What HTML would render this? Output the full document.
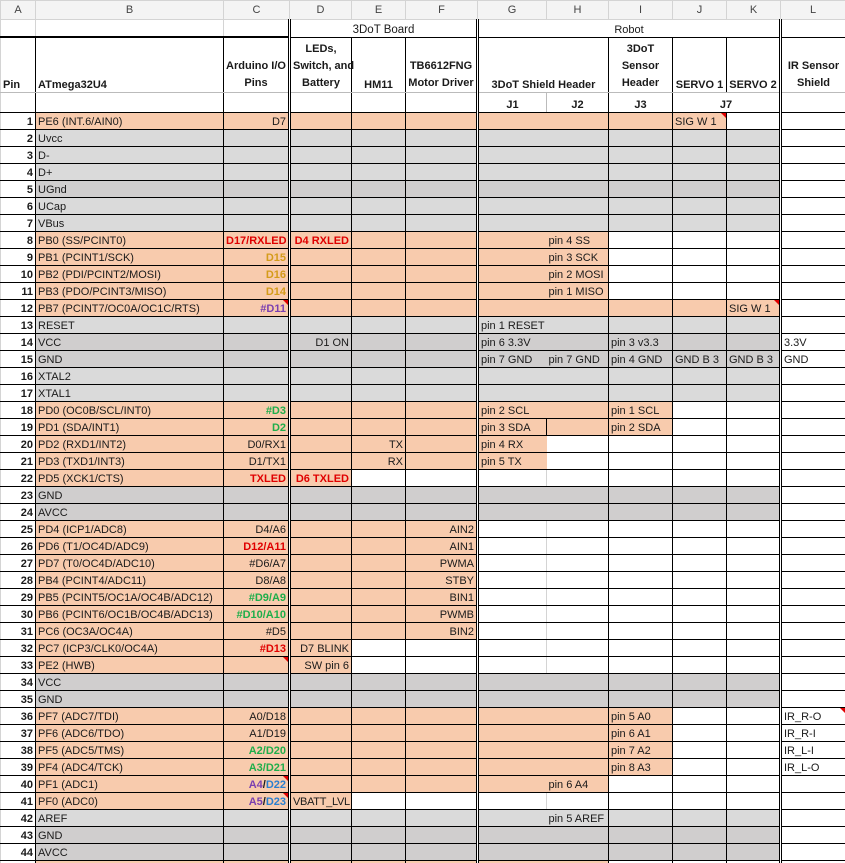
<!DOCTYPE html>
<html><head><meta charset="utf-8">
<style>
html,body{margin:0;padding:0;background:#fff;width:845px;height:863px;overflow:hidden}
table{border-collapse:collapse;table-layout:fixed;width:845px;font-family:"Liberation Sans",Arial,sans-serif;font-size:11px;color:#1a1a1a}
td{border:1px solid #000;padding:0 2px;height:16px;white-space:nowrap;overflow:visible;vertical-align:bottom;line-height:14px;position:relative}
tr.hd td{background:#f4f4f4;border:1px solid #d4d4d4;text-align:center;color:#444;height:18px;vertical-align:middle;font-size:11px}
td.a{text-align:right;font-weight:bold;border-left:1px solid #d4d4d4}
.o{background:#f8cbad}.g{background:#dadada}.G{background:#d0cece}
.r{text-align:right}.b{font-weight:bold}.c{text-align:center}
.red{color:#e00000;font-weight:bold}.gold{color:#d49b1a;font-weight:bold}.pur{color:#7a3fb0;font-weight:bold}.grn{color:#1fae4b;font-weight:bold}.blu{color:#2a7fd0;font-weight:bold}
.dr{border-right:3px double #000}
.x{border-right-style:hidden}
.y{border-right-color:#d4d4d4}
.t::after{content:"";position:absolute;right:0;top:0;border-top:5px solid #e00000;border-left:5px solid transparent}
</style></head><body>
<table>
<colgroup><col style="width:35px"><col style="width:188px"><col style="width:66px"><col style="width:62px"><col style="width:54px"><col style="width:72px"><col style="width:69px"><col style="width:62px"><col style="width:64px"><col style="width:54px"><col style="width:54px"><col style="width:65px"></colgroup>
<tr class="hd"><td>A</td><td>B</td><td>C</td><td>D</td><td>E</td><td>F</td><td>G</td><td>H</td><td>I</td><td>J</td><td>K</td><td>L</td></tr>
<tr><td style="border:1px solid #d4d4d4;border-bottom:2px solid #000;height:16px"></td><td style="border:1px solid #d4d4d4;border-bottom:2px solid #000"></td><td class="dr" style="border-top:1px solid #d4d4d4;border-left:1px solid #d4d4d4;border-bottom:2px solid #000"></td><td colspan="3" class="dr c" style="font-size:11.5px">3DoT Board</td><td colspan="5" class="dr c">Robot</td><td></td></tr>
<tr class="b" style="height:55px"><td style="height:53px;border-left:1px solid #d4d4d4;border-bottom-color:#bbb">Pin</td><td style="border-bottom-color:#bbb">ATmega32U4</td><td class="dr c" style="border-bottom-color:#bbb;line-height:17px">Arduino I/O<br>Pins</td><td class="c" style="line-height:17px;border-bottom-color:#bbb">LEDs,<br>Switch, and<br>Battery</td><td class="c" style="border-bottom-color:#bbb">HM11</td><td class="dr c" style="line-height:17px;border-bottom-color:#bbb">TB6612FNG<br>Motor Driver</td><td colspan="2" class="c" style="border-bottom-color:#bbb">3DoT Shield Header</td><td class="c" style="line-height:17px;border-bottom-color:#bbb">3DoT<br>Sensor<br>Header</td><td class="c" style="border-bottom-color:#bbb">SERVO 1</td><td class="dr c" style="border-bottom-color:#bbb">SERVO 2</td><td class="c" style="line-height:17px;border-bottom-color:#bbb">IR Sensor<br>Shield</td></tr>
<tr class="b" style="height:20px"><td style="height:18px;border-left:1px solid #d4d4d4"></td><td></td><td class="dr"></td><td></td><td></td><td class="dr"></td><td class="c" style="border-right-color:#bbb">J1</td><td class="c">J2</td><td class="c">J3</td><td colspan="2" class="dr c">J7</td><td></td></tr>

<tr><td class="a">1</td><td class="o">PE6 (INT.6/AIN0)</td><td class="o r dr">D7</td><td class="o"></td><td class="o"></td><td class="o dr"></td><td class="o x"></td><td class="o"></td><td class="o"></td><td class="o t">SIG W 1</td><td class="dr"></td><td></td></tr>
<tr><td class="a">2</td><td class="g">Uvcc</td><td class="g dr"></td><td class="g"></td><td class="g"></td><td class="g dr"></td><td class="g x"></td><td class="g"></td><td class="g"></td><td class="g"></td><td class="g dr"></td><td></td></tr>
<tr><td class="a">3</td><td class="g">D-</td><td class="g dr"></td><td class="g"></td><td class="g"></td><td class="g dr"></td><td class="g x"></td><td class="g"></td><td class="g"></td><td class="g"></td><td class="g dr"></td><td></td></tr>
<tr><td class="a">4</td><td class="g">D+</td><td class="g dr"></td><td class="g"></td><td class="g"></td><td class="g dr"></td><td class="g x"></td><td class="g"></td><td class="g"></td><td class="g"></td><td class="g dr"></td><td></td></tr>
<tr><td class="a">5</td><td class="G">UGnd</td><td class="G dr"></td><td class="G"></td><td class="G"></td><td class="G dr"></td><td class="G x"></td><td class="G"></td><td class="G"></td><td class="G"></td><td class="G dr"></td><td></td></tr>
<tr><td class="a">6</td><td class="g">UCap</td><td class="g dr"></td><td class="g"></td><td class="g"></td><td class="g dr"></td><td class="g x"></td><td class="g"></td><td class="g"></td><td class="g"></td><td class="g dr"></td><td></td></tr>
<tr><td class="a">7</td><td class="g">VBus</td><td class="g dr"></td><td class="g"></td><td class="g"></td><td class="g dr"></td><td class="g x"></td><td class="g"></td><td class="g"></td><td class="g"></td><td class="g dr"></td><td></td></tr>
<tr><td class="a">8</td><td class="o">PB0 (SS/PCINT0)</td><td class="o r dr red">D17/RXLED</td><td class="o red r">D4 RXLED</td><td class="o"></td><td class="o dr"></td><td class="o x"></td><td class="o">pin 4 SS</td><td></td><td></td><td class="dr"></td><td></td></tr>
<tr><td class="a">9</td><td class="o">PB1 (PCINT1/SCK)</td><td class="o r dr gold">D15</td><td class="o"></td><td class="o"></td><td class="o dr"></td><td class="o x"></td><td class="o">pin 3 SCK</td><td></td><td></td><td class="dr"></td><td></td></tr>
<tr><td class="a">10</td><td class="o">PB2 (PDI/PCINT2/MOSI)</td><td class="o r dr gold">D16</td><td class="o"></td><td class="o"></td><td class="o dr"></td><td class="o x"></td><td class="o">pin 2 MOSI</td><td></td><td></td><td class="dr"></td><td></td></tr>
<tr><td class="a">11</td><td class="o">PB3 (PDO/PCINT3/MISO)</td><td class="o r dr gold">D14</td><td class="o"></td><td class="o"></td><td class="o dr"></td><td class="o x"></td><td class="o">pin 1 MISO</td><td></td><td></td><td class="dr"></td><td></td></tr>
<tr><td class="a">12</td><td class="o">PB7 (PCINT7/OC0A/OC1C/RTS)</td><td class="o r dr pur t">#D11</td><td class="o"></td><td class="o"></td><td class="o dr"></td><td class="o x"></td><td class="o"></td><td class="o"></td><td class="o"></td><td class="o dr t">SIG W 1</td><td></td></tr>
<tr><td class="a">13</td><td class="g">RESET</td><td class="g dr"></td><td class="g"></td><td class="g"></td><td class="g dr"></td><td class="g x">pin 1 RESET</td><td class="g"></td><td class="g"></td><td class="g"></td><td class="g dr"></td><td></td></tr>
<tr><td class="a">14</td><td class="G">VCC</td><td class="G dr"></td><td class="G r">D1 ON</td><td class="G"></td><td class="G dr"></td><td class="G x">pin 6 3.3V</td><td class="G"></td><td class="G">pin 3 v3.3</td><td class="G"></td><td class="G dr"></td><td>3.3V</td></tr>
<tr><td class="a">15</td><td class="G">GND</td><td class="G dr"></td><td class="G"></td><td class="G"></td><td class="G dr"></td><td class="G x">pin 7 GND</td><td class="G">pin 7 GND</td><td class="G">pin 4 GND</td><td class="G">GND B 3</td><td class="G dr">GND B 3</td><td>GND</td></tr>
<tr><td class="a">16</td><td class="g">XTAL2</td><td class="g dr"></td><td class="g"></td><td class="g"></td><td class="g dr"></td><td class="g x"></td><td class="g"></td><td class="g"></td><td class="g"></td><td class="g dr"></td><td></td></tr>
<tr><td class="a">17</td><td class="g">XTAL1</td><td class="g dr"></td><td class="g"></td><td class="g"></td><td class="g dr"></td><td class="g x"></td><td class="g"></td><td class="g"></td><td class="g"></td><td class="g dr"></td><td></td></tr>
<tr><td class="a">18</td><td class="o">PD0 (OC0B/SCL/INT0)</td><td class="o r dr grn">#D3</td><td class="o"></td><td class="o"></td><td class="o dr"></td><td class="o x">pin 2 SCL</td><td class="o"></td><td class="o">pin 1 SCL</td><td></td><td class="dr"></td><td></td></tr>
<tr><td class="a">19</td><td class="o">PD1 (SDA/INT1)</td><td class="o r dr grn">D2</td><td class="o"></td><td class="o"></td><td class="o dr"></td><td class="o">pin 3 SDA</td><td class="o"></td><td class="o">pin 2 SDA</td><td></td><td class="dr"></td><td></td></tr>
<tr><td class="a">20</td><td class="o">PD2 (RXD1/INT2)</td><td class="o r dr">D0/RX1</td><td class="o"></td><td class="o r">TX</td><td class="o dr"></td><td class="o x">pin 4 RX</td><td></td><td></td><td></td><td class="dr"></td><td></td></tr>
<tr><td class="a">21</td><td class="o">PD3 (TXD1/INT3)</td><td class="o r dr">D1/TX1</td><td class="o"></td><td class="o r">RX</td><td class="o dr"></td><td class="o x">pin 5 TX</td><td></td><td></td><td></td><td class="dr"></td><td></td></tr>
<tr><td class="a">22</td><td class="o">PD5 (XCK1/CTS)</td><td class="o r dr red">TXLED</td><td class="o red r">D6 TXLED</td><td></td><td class="dr"></td><td class="y"></td><td></td><td></td><td></td><td class="dr"></td><td></td></tr>
<tr><td class="a">23</td><td class="G">GND</td><td class="G dr"></td><td class="G"></td><td class="G"></td><td class="G dr"></td><td class="G x"></td><td class="G"></td><td class="G"></td><td class="G"></td><td class="G dr"></td><td></td></tr>
<tr><td class="a">24</td><td class="G">AVCC</td><td class="G dr"></td><td class="G"></td><td class="G"></td><td class="G dr"></td><td class="G x"></td><td class="G"></td><td class="G"></td><td class="G"></td><td class="G dr"></td><td></td></tr>
<tr><td class="a">25</td><td class="o">PD4 (ICP1/ADC8)</td><td class="o r dr">D4/A6</td><td class="o"></td><td class="o"></td><td class="o dr r">AIN2</td><td class="y"></td><td></td><td></td><td></td><td class="dr"></td><td></td></tr>
<tr><td class="a">26</td><td class="o">PD6 (T1/OC4D/ADC9)</td><td class="o r dr red">D12/A11</td><td class="o"></td><td class="o"></td><td class="o dr r">AIN1</td><td class="y"></td><td></td><td></td><td></td><td class="dr"></td><td></td></tr>
<tr><td class="a">27</td><td class="o">PD7 (T0/OC4D/ADC10)</td><td class="o r dr">#D6/A7</td><td class="o"></td><td class="o"></td><td class="o dr r">PWMA</td><td class="y"></td><td></td><td></td><td></td><td class="dr"></td><td></td></tr>
<tr><td class="a">28</td><td class="o">PB4 (PCINT4/ADC11)</td><td class="o r dr">D8/A8</td><td class="o"></td><td class="o"></td><td class="o dr r">STBY</td><td class="y"></td><td></td><td></td><td></td><td class="dr"></td><td></td></tr>
<tr><td class="a">29</td><td class="o">PB5 (PCINT5/OC1A/OC4B/ADC12)</td><td class="o r dr grn">#D9/A9</td><td class="o"></td><td class="o"></td><td class="o dr r">BIN1</td><td class="y"></td><td></td><td></td><td></td><td class="dr"></td><td></td></tr>
<tr><td class="a">30</td><td class="o">PB6 (PCINT6/OC1B/OC4B/ADC13)</td><td class="o r dr grn">#D10/A10</td><td class="o"></td><td class="o"></td><td class="o dr r">PWMB</td><td class="y"></td><td></td><td></td><td></td><td class="dr"></td><td></td></tr>
<tr><td class="a">31</td><td class="o">PC6 (OC3A/OC4A)</td><td class="o r dr">#D5</td><td class="o"></td><td class="o"></td><td class="o dr r">BIN2</td><td class="y"></td><td></td><td></td><td></td><td class="dr"></td><td></td></tr>
<tr><td class="a">32</td><td class="o">PC7 (ICP3/CLK0/OC4A)</td><td class="o r dr red">#D13</td><td class="o r">D7 BLINK</td><td></td><td class="dr"></td><td class="y"></td><td></td><td></td><td></td><td class="dr"></td><td></td></tr>
<tr><td class="a">33</td><td class="o">PE2 (HWB)</td><td class="o r dr t"></td><td class="o r">SW pin 6</td><td></td><td class="dr"></td><td class="y"></td><td></td><td></td><td></td><td class="dr"></td><td></td></tr>
<tr><td class="a">34</td><td class="G">VCC</td><td class="G dr"></td><td class="G"></td><td class="G"></td><td class="G dr"></td><td class="G x"></td><td class="G"></td><td class="G"></td><td class="G"></td><td class="G dr"></td><td></td></tr>
<tr><td class="a">35</td><td class="G">GND</td><td class="G dr"></td><td class="G"></td><td class="G"></td><td class="G dr"></td><td class="G x"></td><td class="G"></td><td class="G"></td><td class="G"></td><td class="G dr"></td><td></td></tr>
<tr><td class="a">36</td><td class="o">PF7 (ADC7/TDI)</td><td class="o r dr">A0/D18</td><td class="o"></td><td class="o"></td><td class="o dr"></td><td class="o x"></td><td class="o"></td><td class="o">pin 5 A0</td><td></td><td class="dr"></td><td class="t">IR_R-O</td></tr>
<tr><td class="a">37</td><td class="o">PF6 (ADC6/TDO)</td><td class="o r dr">A1/D19</td><td class="o"></td><td class="o"></td><td class="o dr"></td><td class="o x"></td><td class="o"></td><td class="o">pin 6 A1</td><td></td><td class="dr"></td><td>IR_R-I</td></tr>
<tr><td class="a">38</td><td class="o">PF5 (ADC5/TMS)</td><td class="o r dr grn">A2/D20</td><td class="o"></td><td class="o"></td><td class="o dr"></td><td class="o x"></td><td class="o"></td><td class="o">pin 7 A2</td><td></td><td class="dr"></td><td>IR_L-I</td></tr>
<tr><td class="a">39</td><td class="o">PF4 (ADC4/TCK)</td><td class="o r dr grn">A3/D21</td><td class="o"></td><td class="o"></td><td class="o dr"></td><td class="o x"></td><td class="o"></td><td class="o">pin 8 A3</td><td></td><td class="dr"></td><td>IR_L-O</td></tr>
<tr><td class="a">40</td><td class="o">PF1 (ADC1)</td><td class="o r dr t b"><span class="pur">A4</span>/<span class="blu">D22</span></td><td class="o"></td><td class="o"></td><td class="o dr"></td><td class="o x"></td><td class="o">pin 6 A4</td><td></td><td></td><td class="dr"></td><td></td></tr>
<tr><td class="a">41</td><td class="o">PF0 (ADC0)</td><td class="o r dr t b"><span class="pur">A5</span>/<span class="blu">D23</span></td><td class="o" style="letter-spacing:-0.3px">VBATT_LVL</td><td></td><td class="dr"></td><td class="y"></td><td></td><td></td><td></td><td class="dr"></td><td></td></tr>
<tr><td class="a">42</td><td class="g">AREF</td><td class="g dr"></td><td class="g"></td><td class="g"></td><td class="g dr"></td><td class="g x"></td><td class="g">pin 5 AREF</td><td class="g"></td><td class="g"></td><td class="g dr"></td><td></td></tr>
<tr><td class="a">43</td><td class="G">GND</td><td class="G dr"></td><td class="G"></td><td class="G"></td><td class="G dr"></td><td class="G x"></td><td class="G"></td><td class="G"></td><td class="G"></td><td class="G dr"></td><td></td></tr>
<tr><td class="a">44</td><td class="G">AVCC</td><td class="G dr"></td><td class="G"></td><td class="G"></td><td class="G dr"></td><td class="G x"></td><td class="G"></td><td class="G"></td><td class="G"></td><td class="G dr"></td><td></td></tr>
<tr><td class="a">45</td><td class="o"></td><td class="o dr"></td><td class="o"></td><td class="o"></td><td class="o dr"></td><td class="o x"></td><td class="o"></td><td></td><td></td><td class="dr"></td><td></td></tr>
</table>
</body></html>
